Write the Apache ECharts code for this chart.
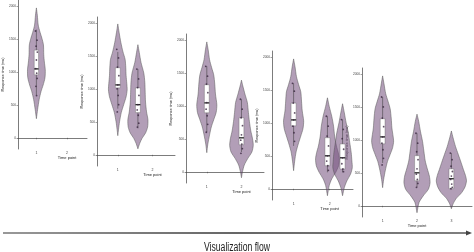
<!DOCTYPE html>
<html>
<head>
<meta charset="utf-8">
<script src="https://cdn.jsdelivr.net/npm/echarts@6/dist/echarts.min.js"></script>
<style>
html, body { margin: 0; padding: 0; background: #fff; }
#main { width: 474px; height: 252px; }
</style>
</head>
<body>
<div id="main"></div>
<script>
// violin outlines: [response time (ms), half width in time-point units]
var p1v1 = [[1970,0],[1860,0.03],[1710,0.06],[1600,0.12],[1510,0.18],[1410,0.23],[1260,0.24],[1150,0.26],[1030,0.29],[910,0.28],[800,0.22],[700,0.15],[580,0.09],[430,0.04],[290,0]];
var p2v1 = [[1985,0],[1850,0.04],[1700,0.09],[1560,0.15],[1450,0.21],[1330,0.23],[1200,0.24],[1080,0.26],[985,0.27],[880,0.24],[760,0.17],[640,0.1],[500,0.05],[380,0.02],[290,0]];
var p2v2 = [[1670,0],[1550,0.04],[1400,0.09],[1240,0.17],[1100,0.2],[950,0.21],[800,0.22],[650,0.25],[530,0.29],[420,0.28],[330,0.22],[250,0.12],[170,0.05],[90,0]];
var p3v1 = [[1970,0],[1850,0.04],[1700,0.08],[1580,0.14],[1470,0.2],[1330,0.23],[1180,0.25],[1015,0.29],[900,0.27],[790,0.2],[680,0.13],[560,0.08],[420,0.03],[290,0]];
var p3v2 = [[1390,0],[1300,0.04],[1180,0.1],[1050,0.17],[900,0.2],[760,0.23],[620,0.27],[500,0.32],[400,0.34],[300,0.3],[200,0.18],[100,0.08],[0,0.03],[-90,0]];
var p4v1 = [[1970,0],[1850,0.04],[1700,0.08],[1580,0.14],[1470,0.2],[1330,0.22],[1180,0.24],[1030,0.28],[910,0.26],[800,0.2],[680,0.13],[560,0.07],[420,0.03],[275,0]];
var p4v2 = [[1380,0],[1250,0.05],[1100,0.12],[950,0.17],[800,0.2],[650,0.25],[550,0.3],[455,0.33],[350,0.31],[250,0.23],[150,0.12],[50,0.05],[-105,0]];
var p4v3 = [[1290,0],[1150,0.05],[1000,0.1],[850,0.16],[700,0.2],[550,0.24],[420,0.26],[320,0.27],[220,0.22],[120,0.12],[20,0.05],[-105,0]];
var p5v1 = [[1970,0],[1850,0.04],[1700,0.09],[1580,0.16],[1470,0.22],[1330,0.25],[1180,0.27],[985,0.32],[880,0.29],[780,0.22],[670,0.14],[540,0.08],[400,0.03],[275,0]];
var p5v2 = [[1390,0],[1280,0.05],[1130,0.1],[980,0.16],[830,0.2],[680,0.24],[560,0.3],[450,0.36],[350,0.38],[250,0.33],[150,0.18],[50,0.06],[-105,0]];
var p5v3 = [[1135,0],[1030,0.05],[900,0.12],[780,0.2],[660,0.28],[550,0.35],[460,0.41],[380,0.44],[290,0.4],[200,0.3],[110,0.14],[30,0.05],[-45,0]];

// time-point position of each violin, per panel
var p1Pos = [1];
var p2Pos = [1, 1.58];
var p3Pos = [1, 2];
var p4Pos = [1, 1.94, 2.36];
var p5Pos = [1, 2, 3];

// box stats: [lower whisker, q1, median, q3, upper whisker]
var p1Box = [[650, 955, 1045, 1330, 1640]];
var p2Box = [[700, 1015, 1060, 1320, 1560], [400, 640, 760, 1015, 1300]];
var p3Box = [[600, 895, 1045, 1320, 1600], [300, 410, 515, 820, 1100]];
var p4Box = [[650, 955, 1045, 1300, 1600], [250, 350, 500, 775, 1100], [250, 300, 470, 680, 1050]];
var p5Box = [[650, 940, 1045, 1320, 1650], [280, 380, 500, 760, 1100], [250, 260, 410, 560, 800]];

// individual observations (ms)
var p1v1Pts = [1620, 1480, 1390, 1300, 1180, 1050, 980, 900, 780, 640];
var p2v1Pts = [1600, 1470, 1330, 1200, 1060, 1000, 900, 760, 650];
var p2v2Pts = [1300, 1150, 1020, 900, 760, 680, 600, 480, 420];
var p3v1Pts = [1600, 1450, 1330, 1200, 1050, 950, 850, 720, 600];
var p3v2Pts = [1100, 950, 820, 700, 560, 480, 420, 350, 280];
var p4v1Pts = [1600, 1480, 1300, 1150, 1045, 950, 850, 720];
var p4v2Pts = [1100, 950, 800, 650, 500, 420, 350, 280];
var p4v3Pts = [1050, 900, 760, 600, 470, 380, 300, 260];
var p5v1Pts = [1650, 1500, 1330, 1200, 1045, 950, 850, 720, 620];
var p5v2Pts = [1100, 950, 820, 700, 560, 480, 400, 340, 280];
var p5v3Pts = [800, 700, 600, 520, 450, 400, 330, 280, 260];
var jitter = [-0.03, 0.02, -0.01, 0.03, 0, -0.02, 0.01, 0.025, -0.015, 0.005];

var yTicks = [0, 500, 1000, 1500, 2000];

var panels = [
    {shapes: [p1v1], pos: p1Pos, box: p1Box, pts: [p1v1Pts], ticks: [1, 2]},
    {shapes: [p2v1, p2v2], pos: p2Pos, box: p2Box, pts: [p2v1Pts, p2v2Pts], ticks: [1, 2]},
    {shapes: [p3v1, p3v2], pos: p3Pos, box: p3Box, pts: [p3v1Pts, p3v2Pts], ticks: [1, 2]},
    {shapes: [p4v1, p4v2, p4v3], pos: p4Pos, box: p4Box, pts: [p4v1Pts, p4v2Pts, p4v3Pts], ticks: [1, 2]},
    {shapes: [p5v1, p5v2, p5v3], pos: p5Pos, box: p5Box, pts: [p5v1Pts, p5v2Pts, p5v3Pts], ticks: [1, 2, 3]}
];

// panel layout (px)
var gridLeft = [11, 97, 186, 272, 362];
var gridWidth = [76, 78, 78, 81, 110];
var gridTop = [0, 17, 34, 51, 68];
var xMax = [2.65, 2.65, 2.65, 2.65, 3.6];

var axisColor = '#444';
var tinyFont = 'Liberation Sans';

var myChart = echarts.init(document.getElementById('main'), null, {renderer: 'canvas'});

function violinRender(shapes) {
    return function (params, api) {
        var x = api.value(0);
        var shape = shapes[params.dataIndex];
        var pts = [];
        for (var i = 0; i < shape.length; i++) {
            pts.push(api.coord([x + shape[i][1], shape[i][0]]));
        }
        for (var j = shape.length - 1; j >= 0; j--) {
            pts.push(api.coord([x - shape[j][1], shape[j][0]]));
        }
        return {
            type: 'polygon',
            shape: {points: pts, smooth: 0.25},
            style: {fill: 'rgba(118,82,126,0.56)', stroke: '#555', lineWidth: 0.5}
        };
    };
}

function boxRender(params, api) {
    var x = api.value(0);
    var w = 0.07;
    var lo = api.coord([x, api.value(1)]);
    var q1 = api.coord([x - w, api.value(2)]);
    var md = api.coord([x, api.value(3)]);
    var q3 = api.coord([x + w, api.value(4)]);
    var hi = api.coord([x, api.value(5)]);
    return {
        type: 'group',
        children: [
            {type: 'line', shape: {x1: lo[0], y1: lo[1], x2: hi[0], y2: hi[1]}, style: {stroke: '#333', lineWidth: 0.5}},
            {type: 'rect', shape: {x: q1[0], y: q3[1], width: q3[0] - q1[0], height: q1[1] - q3[1]},
                style: {fill: '#fff', stroke: '#666', lineWidth: 0.4}},
            {type: 'line', shape: {x1: q1[0], y1: md[1], x2: q3[0], y2: md[1]}, style: {stroke: '#111', lineWidth: 1.2}}
        ]
    };
}

var grid = [], xAxis = [], yAxis = [], series = [];

for (var p = 0; p < panels.length; p++) {
    var pn = panels[p];
    grid.push({left: gridLeft[p], top: gridTop[p], width: gridWidth[p], height: 149});
    xAxis.push({
        type: 'value', gridIndex: p, min: 0.4, max: xMax[p],
        splitLine: {show: false},
        axisLine: {lineStyle: {color: axisColor, width: 0.7}},
        axisTick: {length: 1.5, lineStyle: {color: axisColor, width: 0.5}, customValues: pn.ticks},
        axisLabel: {
            customValues: pn.ticks, fontSize: 3.5, color: '#444', margin: 2, fontFamily: tinyFont,
            formatter: function (v) { return v === 2 ? '2\n{n|Time point}' : String(v); },
            rich: {n: {fontSize: 4, color: '#222', lineHeight: 6, fontFamily: tinyFont}}
        }
    });
    yAxis.push({
        type: 'value', gridIndex: p, min: -170, max: 2090,
        name: 'Response time (ms)', nameLocation: 'middle', nameGap: 8,
        nameTextStyle: {fontSize: 3.8, color: '#222', fontFamily: tinyFont},
        splitLine: {show: false},
        axisLine: {show: true, lineStyle: {color: axisColor, width: 0.7}},
        axisTick: {show: true, length: 1.5, lineStyle: {color: axisColor, width: 0.5}, customValues: yTicks},
        axisLabel: {
            customValues: yTicks, fontSize: 3.2, color: '#444', margin: 2, fontFamily: tinyFont,
            formatter: function (v) { return String(v); }
        }
    });

    var vData = [], bData = [], sData = [];
    for (var k = 0; k < pn.pos.length; k++) {
        vData.push([pn.pos[k], k]);
        bData.push([pn.pos[k]].concat(pn.box[k]));
        for (var m = 0; m < pn.pts[k].length; m++) {
            sData.push([pn.pos[k] + jitter[m % jitter.length], pn.pts[k][m]]);
        }
    }
    series.push({
        type: 'custom', xAxisIndex: p, yAxisIndex: p, z: 2, silent: true,
        renderItem: violinRender(pn.shapes), data: vData
    });
    series.push({
        type: 'custom', xAxisIndex: p, yAxisIndex: p, z: 3, silent: true,
        renderItem: boxRender, data: bData
    });
    series.push({
        type: 'scatter', xAxisIndex: p, yAxisIndex: p, z: 4, silent: true,
        symbolSize: 1.8, itemStyle: {color: '#3a2540'}, data: sData
    });
}

var option = {
    animation: false,
    backgroundColor: '#fff',
    grid: grid,
    xAxis: xAxis,
    yAxis: yAxis,
    series: series,
    graphic: [
        {
            type: 'line', z: 10,
            shape: {x1: 3, y1: 233, x2: 467, y2: 233},
            style: {
                lineWidth: 1.3,
                stroke: new echarts.graphic.LinearGradient(0, 0, 1, 0, [
                    {offset: 0, color: '#777'}, {offset: 0.5, color: '#333'}, {offset: 1, color: '#555'}
                ])
            }
        },
        {
            type: 'polygon', z: 10,
            shape: {points: [[466, 230.5], [472, 233], [466, 235.5]]},
            style: {fill: '#444'}
        },
        {
            type: 'text', z: 10, x: 237, y: 248, scaleX: 0.72,
            style: {
                text: 'Visualization flow', fontSize: 12, fill: '#222',
                fontFamily: 'Liberation Sans Narrow, Liberation Sans, sans-serif',
                align: 'center', verticalAlign: 'middle'
            }
        }
    ]
};

myChart.setOption(option);
</script>
</body>
</html>
